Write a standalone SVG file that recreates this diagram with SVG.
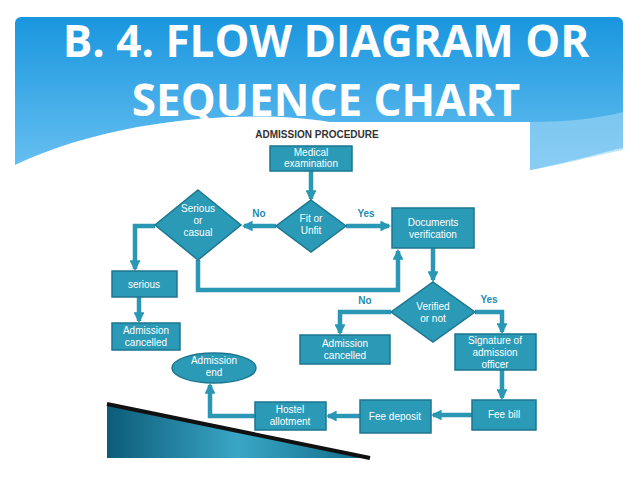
<svg xmlns="http://www.w3.org/2000/svg" width="638" height="478" viewBox="0 0 638 478">
<defs>
<linearGradient id="hg" x1="0" y1="0" x2="0" y2="1"><stop offset="0" stop-color="#1996de"/><stop offset="1" stop-color="#6cc2f2"/></linearGradient>
<linearGradient id="wg" x1="0" y1="0" x2="1" y2="0"><stop offset="0" stop-color="#0c5c78"/><stop offset="0.5" stop-color="#3aa6c6"/><stop offset="1" stop-color="#0e6a86"/></linearGradient>
<marker id="ah" viewBox="0 0 10 10" refX="8" refY="5" markerWidth="2.4" markerHeight="2.4" orient="auto" markerUnits="strokeWidth"><path d="M0,0 L10,5 L0,10 z" fill="#2a98b4"/></marker>
<style>
.n{fill:#2b9ab6;stroke:#1c7690;stroke-width:1.5}
.t{fill:#fff;font-family:"Liberation Sans",Arial,sans-serif;font-size:10px;text-anchor:middle}
.c{fill:none;stroke:#2a98b4;stroke-width:4.5;marker-end:url(#ah)}
.l{fill:#1f8ab0;font-family:"Liberation Sans",Arial,sans-serif;font-size:10px;font-weight:bold;text-anchor:middle}
</style>
</defs>
<rect width="638" height="478" fill="#fff"/>
<rect x="15" y="17" width="608" height="160" rx="6" fill="url(#hg)"/>
<path d="M15,165 C120,115 260,110 330,122 L530,122 L530,170 C580,160 610,150 623,148 L623,200 L15,200 z" fill="#fff"/>
<path d="M530,122 C570,122 600,118 623,112 L623,150 C600,155 560,165 530,170 z" fill="#9ed5f5" opacity="0.6"/>
<text x="326" y="57" font-family="'Open Sans','DejaVu Sans',sans-serif" font-size="44" font-weight="bold" fill="#fff" text-anchor="middle">B. 4. FLOW DIAGRAM OR</text>
<text x="326" y="116" font-family="'Open Sans','DejaVu Sans',sans-serif" font-size="44" font-weight="bold" fill="#fff" text-anchor="middle">SEQUENCE CHART</text>
<text x="317" y="138" font-family="'Liberation Sans',Arial,sans-serif" font-size="10" font-weight="bold" fill="#333" text-anchor="middle">ADMISSION PROCEDURE</text>
<path d="M107,404 L370,458 L107,458 z" fill="url(#wg)"/>
<path d="M107,404 L370,458" stroke="#111" stroke-width="4"/>
<g id="connectors">
<path class="c" d="M311,171 V199"/>
<path class="c" d="M276,226 H244"/>
<path class="c" d="M346,226 H389"/>
<path class="c" d="M155,226 H135 V269"/>
<path class="c" d="M198,260 V290 H398 V251"/>
<path class="c" d="M433,248 V280"/>
<path class="c" d="M391,312 H340 V333"/>
<path class="c" d="M475,312 H502 V332"/>
<path class="c" d="M139,297 V321"/>
<path class="c" d="M502,370 V398"/>
<path class="c" d="M472,415 H433"/>
<path class="c" d="M360,416 H328"/>
<path class="c" d="M255,416 H210 V385"/>
</g>
<text class="l" x="259" y="217">No</text>
<text class="l" x="366" y="217">Yes</text>
<text class="l" x="365" y="304">No</text>
<text class="l" x="489" y="303">Yes</text>
<g id="medical"><rect class="n" x="270" y="146" width="82" height="25"/><text class="t" x="311" y="156">Medical</text><text class="t" x="311" y="167">examination</text></g>
<g id="fit"><path class="n" d="M311,200 L346,226 L311,252 L276,226 z"/><text class="t" x="311" y="222">Fit or</text><text class="t" x="311" y="234">Unfit</text></g>
<g id="serious-casual"><path class="n" d="M198,190 L241,225 L198,260 L155,225 z"/><text class="t" x="198" y="212">Serious</text><text class="t" x="198" y="224">or</text><text class="t" x="198" y="236">casual</text></g>
<g id="docs"><rect class="n" x="392" y="208" width="82" height="40"/><text class="t" x="433" y="226">Documents</text><text class="t" x="433" y="238">verification</text></g>
<g id="serious"><rect class="n" x="112" y="271" width="65" height="26"/><text class="t" x="144" y="288">serious</text></g>
<g id="cancel1"><rect class="n" x="112" y="323" width="68" height="27"/><text class="t" x="146" y="334">Admission</text><text class="t" x="146" y="346">cancelled</text></g>
<g id="verified"><path class="n" d="M433,282 L475,312 L433,342 L391,312 z"/><text class="t" x="433" y="310">Verified</text><text class="t" x="433" y="322">or not</text></g>
<g id="cancel2"><rect class="n" x="300" y="335" width="90" height="29"/><text class="t" x="345" y="347">Admission</text><text class="t" x="345" y="359">cancelled</text></g>
<g id="signature"><rect class="n" x="455" y="334" width="81" height="36"/><text class="t" x="495" y="344">Signature of</text><text class="t" x="495" y="356">admission</text><text class="t" x="495" y="368">officer</text></g>
<g id="end"><ellipse class="n" cx="214" cy="368" rx="42" ry="15"/><text class="t" x="214" y="364">Admission</text><text class="t" x="214" y="376">end</text></g>
<g id="feebill"><rect class="n" x="472" y="400" width="64" height="30"/><text class="t" x="504" y="418">Fee bill</text></g>
<g id="feedeposit"><rect class="n" x="360" y="400" width="71" height="33"/><text class="t" x="395" y="420">Fee deposit</text></g>
<g id="hostel"><rect class="n" x="255" y="402" width="71" height="28"/><text class="t" x="290" y="413">Hostel</text><text class="t" x="290" y="425">allotment</text></g>
</svg>
